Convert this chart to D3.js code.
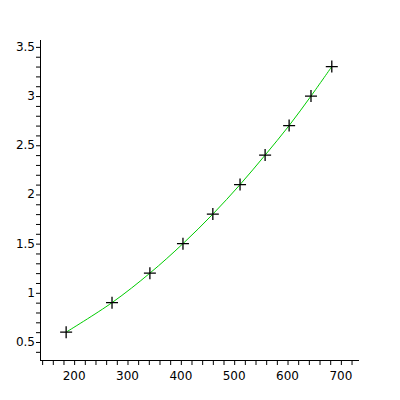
<!DOCTYPE html>
<html><head><meta charset="utf-8">
<script src="https://cdn.jsdelivr.net/npm/d3@7"></script>
<style>body{margin:0;background:#fff}</style></head>
<body><svg id="chart" width="400" height="400"></svg>
<script>
const xValues = [185, 271, 342, 404, 460, 511, 558, 603, 644, 683];
const yValues = [0.6, 0.9, 1.2, 1.5, 1.8, 2.1, 2.4, 2.7, 3.0, 3.3];
const xTicks = [200, 300, 400, 500, 600, 700];
const yTicks = [0.5, 1, 1.5, 2, 2.5, 3, 3.5];

const svg = d3.select('#chart');
const x = d3.scaleLinear().domain([136, 734]).range([40, 359]);
const y = d3.scaleLinear().domain([0.317, 3.57]).range([360, 40]);

// axes
const xAxis = svg.append('g').attr('transform', 'translate(0,360)')
  .call(d3.axisBottom(x).tickValues(d3.range(140, 735, 20)).tickSize(5).tickFormat(''));
const yAxis = svg.append('g').attr('transform', 'translate(40,0)')
  .call(d3.axisLeft(y).tickValues(d3.range(0.4, 3.55, 0.1)).tickSize(4).tickFormat(''));
[xAxis, yAxis].forEach(a => {
  a.selectAll('path,line').attr('stroke', '#000').attr('stroke-width', 1);
  a.select('.domain').attr('d', a === xAxis ? 'M40,0.5H359' : 'M0.5,40V360');
});
svg.append('g').selectAll('text').data(xTicks).join('text')
  .attr('x', d => x(d)).attr('y', 380).attr('text-anchor', 'middle')
  .attr('font-family', 'DejaVu Sans, sans-serif').attr('font-size', 12).text(d => d);
svg.append('g').selectAll('text').data(yTicks).join('text')
  .attr('x', 35).attr('y', d => y(d) + 4).attr('text-anchor', 'end')
  .attr('font-family', 'DejaVu Sans, sans-serif').attr('font-size', 12).text(d => d);

// curve
const pts = xValues.map((v, i) => [v, yValues[i]]);
svg.append('path').datum(pts)
  .attr('d', d3.line().x(d => x(d[0])).y(d => y(d[1])).curve(d3.curveCatmullRom))
  .attr('fill', 'none').attr('stroke', '#00cc00').attr('stroke-width', 1);

// markers
const m = svg.append('g').selectAll('g').data(pts).join('g')
  .attr('transform', d => `translate(${x(d[0])},${y(d[1])})`);
m.append('path').attr('d', 'M-6,0H6M0,-6V6').attr('stroke', '#000').attr('stroke-width', 1.3);
</script></body></html>
